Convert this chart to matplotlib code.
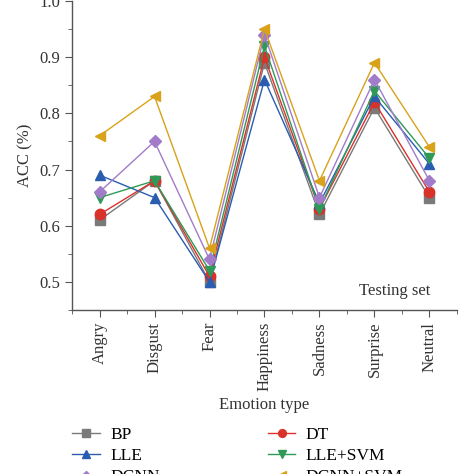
import matplotlib
matplotlib.use("Agg")
import matplotlib.pyplot as plt
from matplotlib.ticker import MultipleLocator

# ACC OF EACH METHOD PER EMOTION (testing set)

emotions = ["Angry", "Disgust", "Fear", "Happiness", "Sadness", "Surprise", "Neutral"]

bp       = [0.61, 0.68, 0.50, 0.89, 0.62, 0.81, 0.65]
dt       = [0.62, 0.68, 0.51, 0.90, 0.63, 0.82, 0.66]
lle      = [0.69, 0.65, 0.50, 0.86, 0.64, 0.83, 0.71]
lle_svm  = [0.65, 0.68, 0.52, 0.92, 0.63, 0.84, 0.72]
dcnn     = [0.66, 0.75, 0.54, 0.94, 0.65, 0.86, 0.68]
dcnn_svm = [0.76, 0.83, 0.56, 0.95, 0.68, 0.89, 0.74]

plt.rcParams['font.family'] = ['Liberation Serif', 'DejaVu Serif']

fig = plt.figure(figsize=(4.74, 4.74), dpi=100)
ax = fig.add_axes([0.152, 0.346, 0.812, 0.652])

x = list(range(1, len(emotions) + 1))

series = [
    ("BP", bp, "s", "#7a7a7a"),
    ("DT", dt, "o", "#d8322a"),
    ("LLE", lle, "^", "#2a5db0"),
    ("LLE+SVM", lle_svm, "v", "#2f9a58"),
    ("DCNN", dcnn, "D", "#a27cc8"),
    ("DCNN+SVM", dcnn_svm, "<", "#d9a21b"),
]

lines = {}
for name, vals, mk, col in series:
    ms = 6 if mk == "D" else 7.5
    l, = ax.plot(x, vals, '-', marker=mk, color=col, lw=1.0, ms=ms, label=name)
    lines[name] = l

ax.set_xlim(0.5, 7.5)
ax.set_ylim(0.45, 1.0)
ax.yaxis.set_major_locator(MultipleLocator(0.1))
ax.yaxis.set_minor_locator(MultipleLocator(0.05))
ax.set_xticks(x)
ax.set_xticks([i + 0.5 for i in range(0, 8)], minor=True)
ax.set_xticklabels(emotions, rotation=90, fontsize=12, color="#333333")
for lab in ax.get_yticklabels():
    lab.set_fontsize(12)
    lab.set_color("#333333")

ax.spines['top'].set_visible(False)
ax.spines['right'].set_visible(False)
for s in ['left', 'bottom']:
    ax.spines[s].set_color("#555555")
    ax.spines[s].set_linewidth(1.0)
ax.tick_params(which='major', length=5, color="#555555", direction='out')
ax.tick_params(which='minor', length=3, color="#555555", direction='out')

ax.set_ylabel("ACC (%)", fontsize=12, color="#333333")
ax.set_xlabel("Emotion type", fontsize=12, color="#333333")

ax.text(0.93, 0.06, "Testing set", transform=ax.transAxes, ha='right', va='center',
        fontsize=12, color="#333333")

# legend is filled row-wise in the reference: BP DT / LLE LLE+SVM / DCNN DCNN+SVM
order = ["BP", "LLE", "DCNN", "DT", "LLE+SVM", "DCNN+SVM"]
fig.legend([lines[n] for n in order], order, loc='upper left',
           bbox_to_anchor=(0.138, 0.115), ncol=2, frameon=False,
           fontsize=12.5, handlelength=1.6, handletextpad=0.6, columnspacing=6.2,
           labelspacing=0.3, borderaxespad=0.0, markerscale=0.75)

fig.savefig("out.png", dpi=100)
